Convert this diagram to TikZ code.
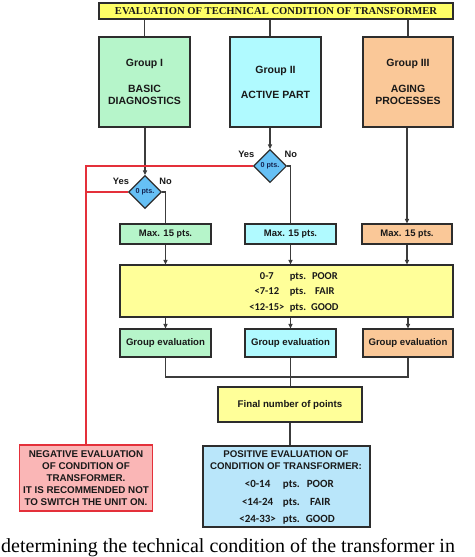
\documentclass[tikz,border=0pt]{standalone}
\usepackage{fontspec}
\setmainfont{Liberation Sans}
\newfontfamily\calib{Carlito}
\newfontfamily\tms{Liberation Serif}
\usetikzlibrary{shapes.geometric,arrows.meta}
\definecolor{boxline}{RGB}{45,45,45}
\definecolor{lineclr}{RGB}{60,60,60}
\definecolor{titley}{RGB}{255,255,102}
\definecolor{ylw}{RGB}{255,255,153}
\definecolor{grn}{RGB}{182,245,202}
\definecolor{cyn}{RGB}{176,250,255}
\definecolor{org}{RGB}{250,200,152}
\definecolor{diab}{RGB}{102,192,245}
\definecolor{posb}{RGB}{185,230,250}
\definecolor{negf}{RGB}{250,182,182}
\definecolor{redl}{RGB}{228,48,58}
\definecolor{navy}{RGB}{20,35,80}
\definecolor{txt}{RGB}{25,25,25}
\tikzset{
  box/.style={draw=boxline, line width=1.2pt, inner sep=0pt, align=center, text=txt,
    font=\bfseries\fontsize{10.5}{12}\selectfont},
  dia/.style={diamond, aspect=1, draw=boxline, line width=1.1pt, fill=diab, inner sep=0pt,
    minimum width=33pt, minimum height=33pt, text=navy, font=\bfseries\fontsize{7.2}{8}\selectfont},
  yn/.style={inner sep=0pt, text=txt, font=\bfseries\fontsize{9.3}{10}\selectfont},
  conn/.style={draw=lineclr, line width=1.1pt},
  arr/.style={conn, -{Triangle[length=4.5pt,width=4pt]}},
  redline/.style={draw=redl, line width=1.2pt},
  maxf/.style={font=\bfseries\fontsize{9.5}{11}\selectfont},
  evf/.style={font=\bfseries\fontsize{9.6}{11}\selectfont},
  tab/.style={inner sep=0pt, text=txt}
}
\begin{document}
\begin{tikzpicture}[x=1pt,y=-1pt]
\useasboundingbox (0,0) rectangle (474,557);
\clip (0,0) rectangle (474,557);
\fill[white] (0,0) rectangle (474,557);

% title
\node[box, fill=titley, minimum width=354pt, minimum height=16pt,
  font=\tms\bfseries\fontsize{10.6}{11}\selectfont] (title) at (276,11)
  {EVALUATION OF TECHNICAL CONDITION OF TRANSFORMER};

% groups
\node[box, fill=grn, minimum width=91pt, minimum height=90pt] (g1) at (144.5,82)
  {Group I\\[14pt]BASIC\\DIAGNOSTICS};
\node[box, fill=cyn, minimum width=91pt, minimum height=90pt] (g2) at (275.5,82)
  {Group II\\[13pt]ACTIVE PART};
\node[box, fill=org, minimum width=90pt, minimum height=90pt] (g3) at (408,82)
  {Group III\\[14pt]AGING\\PROCESSES};

% diamonds
\node[dia] (d1) at (145,192) {0 pts.};
\node[dia] (d2) at (270,166) {0 pts.};
\node[yn] (y1) at (121,181) {Yes};
\node[yn] (n1) at (165.5,181) {No};
\node[yn] (y2) at (246.3,154) {Yes};
\node[yn] (n2) at (290.8,154) {No};

% max boxes
\node[box, maxf, fill=grn, minimum width=91pt, minimum height=20pt] (m1) at (165.5,234)
  {Max. 15 {\calib\fontsize{10}{11}\selectfont pts.}};
\node[box, maxf, fill=cyn, minimum width=91pt, minimum height=20pt] (m2) at (290.5,234)
  {Max. 15 {\calib\fontsize{10}{11}\selectfont pts.}};
\node[box, maxf, fill=org, minimum width=90pt, minimum height=20pt] (m3) at (407,234)
  {Max. 15 {\calib\fontsize{10}{11}\selectfont pts.}};

% yellow scale box
\node[box, fill=ylw, minimum width=333pt, minimum height=52pt] (yb) at (286.5,291) {};
\node[tab] (ybt) at (294,291.5) {\calib\bfseries\fontsize{10.5}{15.5}\selectfont
  \begin{tabular}{@{}c@{\hspace{5.5pt}}l@{\hspace{5pt}}c@{}}
  0-7 & pts. & POOR\\
  <7-12 & pts. & FAIR\\
  <12-15> & pts. & GOOD
  \end{tabular}};

% group evaluation
\node[box, evf, fill=grn, minimum width=91pt, minimum height=28pt] (e1) at (165.5,343) {Group evaluation};
\node[box, evf, fill=cyn, minimum width=91pt, minimum height=28pt] (e2) at (290.5,343) {Group evaluation};
\node[box, evf, fill=org, minimum width=90pt, minimum height=28pt] (e3) at (408,343) {Group evaluation};

% final
\node[box, fill=ylw, minimum width=144pt, minimum height=35pt,
  font=\bfseries\fontsize{9.7}{11}\selectfont] (fin) at (290,404.5) {Final number of points};

% positive
\node[box, fill=posb, minimum width=167pt, minimum height=81pt] (pos) at (286.5,486.5) {};
\node[tab, align=center, font=\bfseries\fontsize{9.7}{12}\selectfont] (posh) at (286,460.5)
  {POSITIVE EVALUATION OF\\CONDITION OF TRANSFORMER:};
\node[tab] (post) at (287,501.5) {\calib\bfseries\fontsize{11}{17.5}\selectfont
  \begin{tabular}{@{}c@{\hspace{7pt}}l@{\hspace{6pt}}c@{}}
  <0-14 & pts. & POOR\\
  <14-24 & pts. & FAIR\\
  <24-33> & pts. & GOOD
  \end{tabular}};

% negative
\node[box, draw=redl, fill=negf, minimum width=133pt, minimum height=66pt,
  font=\bfseries\fontsize{9.8}{12}\selectfont] (neg) at (86,478)
  {NEGATIVE EVALUATION\\OF CONDITION OF\\TRANSFORMER.\\IT IS RECOMMENDED NOT\\TO SWITCH THE UNIT ON.};

% connectors
\draw[conn] (title.south -| g1.north) -- (g1.north);
\draw[conn] (title.south -| d2.north) -- (g2.north -| d2.north);
\draw[conn] (title.south -| g3.north) -- (g3.north);
\draw[arr] (g1.south -| d1.north) -- (d1.north);
\draw[arr] (g2.south -| d2.north) -- (d2.north);
\draw[arr] (g3.south -| m3.north) -- (m3.north);
\draw[conn] (d1.east) -| (m1.north);
\draw[conn] (d2.east) -| (m2.north);
\draw[redline] (d2.west) -| (neg.north);
\draw[redline] (d1.west) -- (d1.west -| neg.north);
\foreach \m in {m1,m2,m3} \draw[arr] (\m.south) -- (\m.south |- yb.north);
\foreach \e in {e1,e2,e3} \draw[arr] (yb.south -| \e.north) -- (\e.north);
\coordinate (j) at (290.5,377);
\draw[conn] (e1.south) |- (j) -| (e3.south);
\draw[conn] (e2.south) -- (e2.south |- fin.north);
\draw[conn] (fin.south) -- (fin.south |- pos.north);

% caption line below the figure
\node[anchor=base west, inner sep=0pt, text=black, font=\tms\fontsize{20}{21}\selectfont] (cap) at (1,552)
  {determining the technical condition of the transformer in};
\end{tikzpicture}
\end{document}
